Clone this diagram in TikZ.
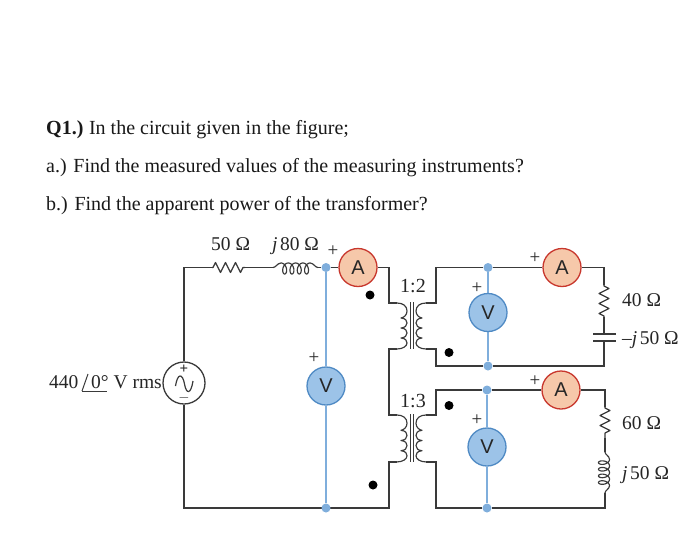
\documentclass[tikz,border=0pt]{standalone}
\usepackage{fontspec}
\setmainfont{Liberation Serif}
\newfontfamily\metersans{Liberation Sans}
\usetikzlibrary{decorations.pathmorphing,backgrounds}
\definecolor{wirec}{HTML}{3A3A3A}
\definecolor{bluew}{HTML}{7FAEDC}
\definecolor{vfill}{HTML}{9CC3E8}
\definecolor{vdraw}{HTML}{4F8AC4}
\definecolor{afill}{HTML}{F6C8AA}
\definecolor{adraw}{HTML}{C8372D}
\tikzset{
  wire/.style={draw=wirec,line width=1.4pt,line join=miter},
  thinw/.style={draw=wirec,line width=1.15pt,line join=round},
  bwire/.style={draw=bluew,line width=1.6pt},
  meterA/.style={circle,draw=adraw,fill=afill,line width=1.3pt,minimum size=38pt,inner sep=0pt,font=\metersans\fontsize{20}{20}\selectfont,text=black!85},
  meterV/.style={circle,draw=vdraw,fill=vfill,line width=1.3pt,minimum size=38pt,inner sep=0pt,font=\metersans\fontsize{20}{20}\selectfont,text=black!85},
  junc/.style={circle,fill=bluew,minimum size=9pt,inner sep=0pt},
  pdot/.style={circle,fill=black,minimum size=9pt,inner sep=0pt},
  txt/.style={anchor=base west,inner sep=0pt,font=\fontsize{20}{20}\selectfont,text=black!90},
  lab/.style={anchor=base west,inner sep=0pt,font=\fontsize{19.5}{20}\selectfont,text=black!85},
  ratio/.style={anchor=base,inner sep=0pt,font=\fontsize{20}{20}\selectfont,text=black!85},
  plus/.style={inner sep=0pt,font=\fontsize{19}{19}\selectfont,text=black!85},
  res/.style={thinw,decorate,decoration={zigzag,amplitude=5pt,segment length=10pt,pre length=1pt,post length=1pt}},
  core/.style={draw=wirec,line width=1.1pt},
  tcoil/.pic={
    \draw[thinw] (0,0) .. controls (6,0) and (10,3) .. (10,8)
      .. controls (10,12) and (7,14.5) .. (4,15)
      .. controls (9,15.5) and (10,18) .. (10,20)
      .. controls (10,23) and (8,24.5) .. (4,25)
      .. controls (9,25.5) and (10,28) .. (10,30)
      .. controls (10,33) and (8,34.5) .. (4,35)
      .. controls (9,35.5) and (10,38) .. (10,40)
      .. controls (10,43) and (6,46) .. (0,46);
  },
  ind/.pic={
    \draw[thinw] (0,0) .. controls (3,0) and (4,-4.2) .. (8,-4.5)
      plot[domain=0:1440,samples=160,variable=\t] ({8+7.3*\t/360+3.6*sin(\t)},{1-5.5*cos(\t)})
      (37.2,-4.5) .. controls (41,-4.2) and (42,0) .. (45,0);
  },
}
\begin{document}
\begin{tikzpicture}[x=1pt,y=-1pt]
\useasboundingbox (0,0) rectangle (700,557);
\begin{pgfonlayer}{background}
\fill[white] (0,0) rectangle (700,557);
\end{pgfonlayer}

% question text
\node[txt] (q1) at (46,134) {\textbf{Q1.)}\kern-1pt{} In the circuit given in the figure;};
\node[txt] (q2) at (46,172) {a.) Find the measured values of the measuring instruments?};
\node[txt] (q3) at (46,210) {b.) Find the apparent power of the transformer?};

% anchors of the left loop
\coordinate (tl) at (184,267.5);
\coordinate (bl) at (184,508);
\coordinate (r1a) at (212,267.5);
\coordinate (r1b) at (245,267.5);
\coordinate (l1a) at (273,267.5);
\coordinate (l1b) at (318,267.5);
\node[junc] (j1) at (326,267.5) {};
\node[junc] (j2) at (326,508) {};
\node[meterA] (a1) at (358,267.5) {A};
\node[meterV] (v1) at (326,386) {V};
\coordinate (t1) at (389,267.5);
\coordinate (p1a) at (389,303);
\coordinate (p1b) at (389,349);
\coordinate (p2a) at (389,415);
\coordinate (p2b) at (389,462);
\coordinate (b1) at (389,508);
\coordinate (p1ta) at (397,303);
\coordinate (p1tb) at (397,349);
\coordinate (p2ta) at (397,415);
\coordinate (p2tb) at (397,462);
\coordinate (s1ta) at (426,303);
\coordinate (s1tb) at (426,349);
\coordinate (s2ta) at (426,415);
\coordinate (s2tb) at (426,462);

% source
\node[circle,draw=wirec,line width=1.3pt,fill=white,minimum size=42pt,inner sep=0pt] (src) at (184,383) {};
\draw[wirec,line width=1.2pt] (175.5,386) .. controls (177.5,373) and (182.5,373) .. (184.5,384) .. controls (186.5,395) and (191,394) .. (193,381);
\node[plus,font=\bfseries\fontsize{15}{15}\selectfont] (sp) at (184,369) {+};
\node[plus,font=\bfseries\fontsize{15}{15}\selectfont] (sm) at (184,398) {$-$};

% upper secondary points
\coordinate (u1) at (436,303);
\coordinate (u2) at (436,267.5);
\coordinate (u3) at (436,349);
\coordinate (u4) at (436,366);
\coordinate (u5) at (604,267.5);
\coordinate (u6) at (604,366);
\coordinate (r2a) at (604,285);
\coordinate (r2b) at (604,317);
\coordinate (c2a) at (604,334);
\coordinate (c2b) at (604,341);
\node[junc] (j3) at (488,267.5) {};
\node[junc] (j4) at (488,366) {};
\node[meterV] (v2) at (488,312.5) {V};
\node[meterA] (a2) at (562,267.5) {A};

% lower secondary points
\coordinate (w1) at (436,415);
\coordinate (w2) at (436,390);
\coordinate (w3) at (436,462);
\coordinate (w4) at (436,508);
\coordinate (w5) at (605,390);
\coordinate (w6) at (605,508);
\coordinate (r3a) at (605,407);
\coordinate (r3b) at (605,438);
\coordinate (l3a) at (605,452);
\coordinate (l3b) at (605,493);
\node[junc] (j5) at (487,390) {};
\node[junc] (j6) at (487,508) {};
\node[meterV] (v3) at (487,447) {V};
\node[meterA] (a3) at (561,390) {A};

% connectors sit beneath nodes
\begin{pgfonlayer}{background}
\draw[wire] (src.north) -- (tl) -- (r1a);
\draw[res] (r1a) -- (r1b);
\draw[wire] (r1b) -- (l1a);
\pic at (l1a) {ind};
\draw[wire] (l1b) -- (j1);
\draw[wire] (j1) -- (a1);
\draw[wire] (a1) -- (t1) -- (p1a) -- (p1ta);
\draw[wire] (p1tb) -- (p1b) -- (p2a) -- (p2ta);
\draw[wire] (p2tb) -- (p2b) -- (b1) -- (bl) -- (src.south);
\draw[bwire] (j1) -- (v1);
\draw[bwire] (v1) -- (j2);

\pic at (p1ta) {tcoil};
\pic[xscale=-1] at (s1ta) {tcoil};
\pic[yscale=1.02] at (p2ta) {tcoil};
\pic[xscale=-1,yscale=1.02] at (s2ta) {tcoil};
\draw[core] (410.5,302) -- (410.5,349) (413.8,302) -- (413.8,349);
\draw[core] (410.5,414) -- (410.5,462) (413.8,414) -- (413.8,462);

\draw[wire] (s1ta) -- (u1) -- (u2) -- (j3) -- (a2);
\draw[wire] (a2) -- (u5) -- (r2a);
\draw[res] (r2a) -- (r2b);
\draw[wire] (r2b) -- (c2a);
\draw[wire] (593,334) -- (616,334);
\draw[wire] (593,341) -- (616,341);
\draw[wire] (c2b) -- (u6) -- (j4) -- (u4) -- (u3) -- (s1tb);
\draw[bwire] (j3) -- (v2);
\draw[bwire] (v2) -- (j4);

\draw[wire] (s2ta) -- (w1) -- (w2) -- (j5) -- (a3);
\draw[wire] (a3) -- (w5) -- (r3a);
\draw[res] (r3a) -- (r3b);
\draw[wire] (r3b) -- (l3a);
\pic[rotate=-90,xscale=.91] at (l3a) {ind};
\draw[wire] (l3b) -- (w6) -- (j6) -- (w4) -- (w3) -- (s2tb);
\draw[bwire] (j5) -- (v3);
\draw[bwire] (v3) -- (j6);
\end{pgfonlayer}

% polarity dots
\node[pdot] (d1) at (370,295) {};
\node[pdot] (d2) at (449,352.5) {};
\node[pdot] (d3) at (449,405.5) {};
\node[pdot] (d4) at (373,485) {};

% plus marks
\node[plus] (pa1) at (333,251) {+};
\node[plus] (pv1) at (314,358) {+};
\node[plus] (pv2) at (477,288) {+};
\node[plus] (pa2) at (535,258) {+};
\node[plus] (pa3) at (535,381) {+};
\node[plus] (pv3) at (477,420) {+};

% labels
\node[lab] (l50) at (211,250) {50 Ω};
\node[lab] (l80) at (272,250) {\textit{j}\kern2.5pt{}80 Ω};
\node[lab] (l40) at (622,306) {40 Ω};
\node[lab] (lm50) at (622,344) {–\textit{j}\kern2.5pt{}50 Ω};
\node[lab] (l60) at (622,429) {60 Ω};
\node[lab] (lj50) at (622,479) {\textit{j}\kern2.5pt{}50 Ω};
\node[ratio] (r12) at (413,292) {1:2};
\node[ratio] (r13) at (413,407) {1:3};
\node[lab] (l440a) at (49,388) {440};
\node[lab] (l440b) at (91,388) {0° V rms};
\draw[wirec,line width=1pt] (82,391) -- (88,374);
\draw[wirec,line width=1pt] (82,391.5) -- (107,391.5);
\end{tikzpicture}
\end{document}
